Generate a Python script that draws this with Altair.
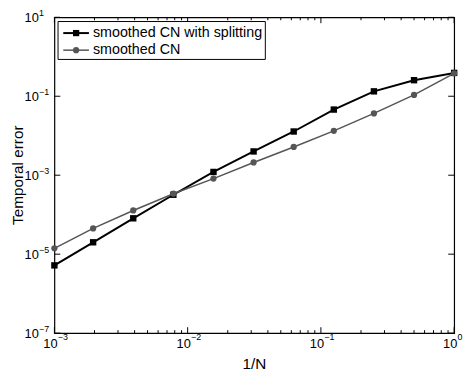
import altair as alt
import pandas as pd

# ---- data ----
inv_n = [1.0, 0.5, 0.25, 0.125, 0.0625, 0.03125, 0.015625, 0.0078125,
         0.00390625, 0.001953125, 0.001]
err_split = [0.39, 0.255, 0.133, 0.046, 0.0128, 0.0040, 0.00121, 3.2e-4,
             8.1e-5, 2.0e-5, 5.2e-6]
err_plain = [0.38, 0.108, 0.0367, 0.0133, 0.0052, 0.0021, 8.2e-4, 3.4e-4,
             1.28e-4, 4.5e-5, 1.41e-5]
series_names = ["smoothed CN with splitting", "smoothed CN"]

x_major = [1e-3, 1e-2, 1e-1, 1.0]
x_exp = ["\u22123", "\u22122", "\u22121", "0"]
y_major = [1e-7, 1e-5, 1e-3, 1e-1, 1e1]
y_exp = ["\u22127", "\u22125", "\u22123", "\u22121", "1"]
x_minor = [m * d for d in [1e-3, 1e-2, 1e-1] for m in range(2, 10)]

W, H = 405, 320
FONT = "Liberation Sans"
GREY = "#555555"

xs = alt.Scale(type="log", domain=[1e-3, 1.0], nice=False)
ys = alt.Scale(type="log", domain=[1e-7, 10.0], nice=False)

df_split = pd.DataFrame({"x": inv_n, "y": err_split})
df_plain = pd.DataFrame({"x": inv_n, "y": err_plain})
df_xmaj = pd.DataFrame({"v": x_major, "base": ["10"] * len(x_major), "exp": x_exp})
df_ymaj = pd.DataFrame({"v": y_major, "base": ["10"] * len(y_major), "exp": y_exp})
df_xmin = pd.DataFrame({"v": x_minor})

X = lambda f: alt.X(f, type="quantitative", scale=xs, axis=None)
Y = lambda f: alt.Y(f, type="quantitative", scale=ys, axis=None)

# series
line_split = alt.Chart(df_split).mark_line(color="black", strokeWidth=2).encode(x=X("x"), y=Y("y"))
pts_split = alt.Chart(df_split).mark_point(shape="square", filled=True, color="black",
                                           size=42, opacity=1).encode(x=X("x"), y=Y("y"))
line_plain = alt.Chart(df_plain).mark_line(color=GREY, strokeWidth=1.5).encode(x=X("x"), y=Y("y"))
pts_plain = alt.Chart(df_plain).mark_point(shape="circle", filled=True, color=GREY,
                                           size=40, opacity=1).encode(x=X("x"), y=Y("y"))

# inward ticks
def xticks(df, length):
    b = alt.Chart(df).mark_rule(color="black", strokeWidth=1).encode(
        x=X("v"), y=alt.value(H), y2=alt.value(H - length))
    t = alt.Chart(df).mark_rule(color="black", strokeWidth=1).encode(
        x=X("v"), y=alt.value(0), y2=alt.value(length))
    return [b, t]

def yticks(df, length):
    l = alt.Chart(df).mark_rule(color="black", strokeWidth=1).encode(
        y=Y("v"), x=alt.value(0), x2=alt.value(length))
    r = alt.Chart(df).mark_rule(color="black", strokeWidth=1).encode(
        y=Y("v"), x=alt.value(W), x2=alt.value(W - length))
    return [l, r]

ticks = xticks(df_xmaj, 6) + xticks(df_xmin, 3) + yticks(df_ymaj, 6)

# tick labels (10 with superscript exponent)
xl_base = alt.Chart(df_xmaj).mark_text(font=FONT, fontSize=13, align="center",
                                       baseline="alphabetic", dx=-4, color="black").encode(
    x=X("v"), y=alt.value(335), text="base:N")
xl_exp = alt.Chart(df_xmaj).mark_text(font=FONT, fontSize=9, align="left",
                                      baseline="alphabetic", dx=3.5, color="black").encode(
    x=X("v"), y=alt.value(327), text="exp:N")
yl_base = alt.Chart(df_ymaj).mark_text(font=FONT, fontSize=13, align="right",
                                       baseline="alphabetic", dy=4.7, color="black").encode(
    y=Y("v"), x=alt.value(-15.7), text="base:N")
yl_exp = alt.Chart(df_ymaj).mark_text(font=FONT, fontSize=9, align="left",
                                      baseline="alphabetic", dy=-1.5, color="black").encode(
    y=Y("v"), x=alt.value(-15.5), text="exp:N")

# axis titles
xtitle = alt.Chart(pd.DataFrame({"t": ["1/N"]})).mark_text(
    font=FONT, fontSize=15.5, align="center", baseline="alphabetic", color="black").encode(
    x=alt.value(W / 2), y=alt.value(356.5), text="t:N")
ytitle = alt.Chart(pd.DataFrame({"t": ["Temporal error"]})).mark_text(
    font=FONT, fontSize=15.5, align="center", baseline="alphabetic", angle=270,
    color="black").encode(x=alt.value(-31.5), y=alt.value(H / 2), text="t:N")

# legend
leg_box = alt.Chart(pd.DataFrame({"k": [1]})).mark_rect(
    fill="white", stroke="black", strokeWidth=1).encode(
    x=alt.value(3.7), x2=alt.value(213.7), y=alt.value(4.3), y2=alt.value(42.7))
leg = []
for i, (name, col, shp, sw) in enumerate(zip(series_names, ["black", GREY],
                                             ["square", "circle"], [2, 1.5])):
    yy = 16 + i * 17.3
    d = pd.DataFrame({"label": [name]})
    leg.append(alt.Chart(d).mark_rule(color=col, strokeWidth=sw).encode(
        x=alt.value(9), x2=alt.value(35), y=alt.value(yy)))
    leg.append(alt.Chart(d).mark_point(shape=shp, filled=True, color=col, size=40,
                                       opacity=1).encode(x=alt.value(22), y=alt.value(yy)))
    leg.append(alt.Chart(d).mark_text(font=FONT, fontSize=14.5, align="left",
                                      baseline="middle", color="black").encode(
        x=alt.value(39), y=alt.value(yy), text="label:N"))

chart = alt.layer(
    *ticks, line_split, pts_split, line_plain, pts_plain,
    xl_base, xl_exp, yl_base, yl_exp, xtitle, ytitle,
    leg_box, *leg
).properties(
    width=W, height=H,
    autosize=alt.AutoSizeParams(type="none"),
    padding={"left": 47, "top": 7, "right": 12, "bottom": 40},
).configure_view(stroke="black", strokeWidth=1.2)

chart.save("out.html", embed_options={"renderer": "svg", "actions": False})
